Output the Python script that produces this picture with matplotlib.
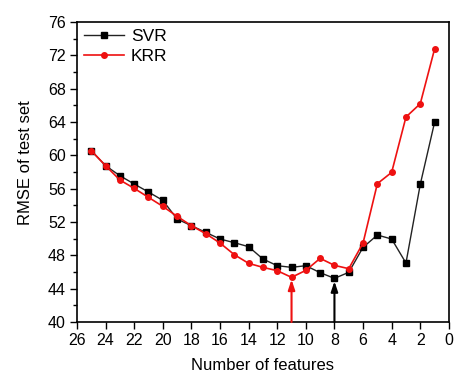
import matplotlib
matplotlib.use("Agg")
import matplotlib.pyplot as plt
from matplotlib.ticker import MultipleLocator

plt.rcParams["font.family"] = ["Liberation Sans", "DejaVu Sans"]

features = list(range(25, 0, -1))
svr_rmse = [60.56, 58.76, 57.56, 56.56, 55.6, 54.6, 52.36, 51.56, 50.76, 49.96,
            49.52, 49.04, 47.56, 46.76, 46.56, 46.76, 45.92, 45.24, 45.96, 48.96,
            50.44, 49.96, 47.08, 56.52, 63.96]
krr_rmse = [60.56, 58.76, 57.04, 56.04, 54.96, 53.88, 52.68, 51.56, 50.6, 49.48,
            48.08, 47.04, 46.56, 46.16, 45.36, 46.2, 47.64, 46.8, 46.4, 49.48,
            56.6, 57.96, 64.6, 66.2, 72.76]

# optimal feature counts marked with arrows
svr_best = 8
krr_best = 11

fig = plt.figure(figsize=(4.74, 3.8), dpi=100)
ax = fig.add_axes([0.1624, 0.1526, 0.7846, 0.7894])

ax.plot(features, svr_rmse, color="#222222", linewidth=1.0, marker="s",
        markersize=4, markerfacecolor="black", markeredgecolor="black", label="SVR")
ax.plot(features, krr_rmse, color="#ee1111", linewidth=1.2, marker="o",
        markersize=4, markerfacecolor="#ee1111", markeredgecolor="#ee1111", label="KRR")

ax.annotate("", xy=(krr_best, 45.1), xytext=(krr_best, 40),
            arrowprops=dict(arrowstyle="-|>,head_length=0.6,head_width=0.2",
                            color="#ee1111", lw=1.5, shrinkA=0, shrinkB=0))
ax.annotate("", xy=(svr_best, 44.9), xytext=(svr_best, 40),
            arrowprops=dict(arrowstyle="-|>,head_length=0.6,head_width=0.2",
                            color="black", lw=1.5, shrinkA=0, shrinkB=0))

ax.set_xlim(26, 0)
ax.set_ylim(40, 76)
ax.xaxis.set_major_locator(MultipleLocator(2))
ax.yaxis.set_major_locator(MultipleLocator(4))
ax.yaxis.set_minor_locator(MultipleLocator(2))
ax.tick_params(axis="both", which="major", direction="out", length=5, width=1,
               labelsize=11.5, top=False, right=False, pad=3)
ax.tick_params(axis="y", which="minor", direction="out", length=3, width=1)
for s in ax.spines.values():
    s.set_linewidth(1.2)

ax.set_xlabel("Number of features", fontsize=12, labelpad=7)
ax.set_ylabel("RMSE of test set", fontsize=12)
ax.yaxis.set_label_coords(-0.118, 0.53)

ax.legend(loc="upper left", frameon=False, fontsize=12.5, handlelength=2.3,
          handletextpad=0.4, borderaxespad=0.0, labelspacing=0.3)

fig.savefig("out.png", dpi=100)
